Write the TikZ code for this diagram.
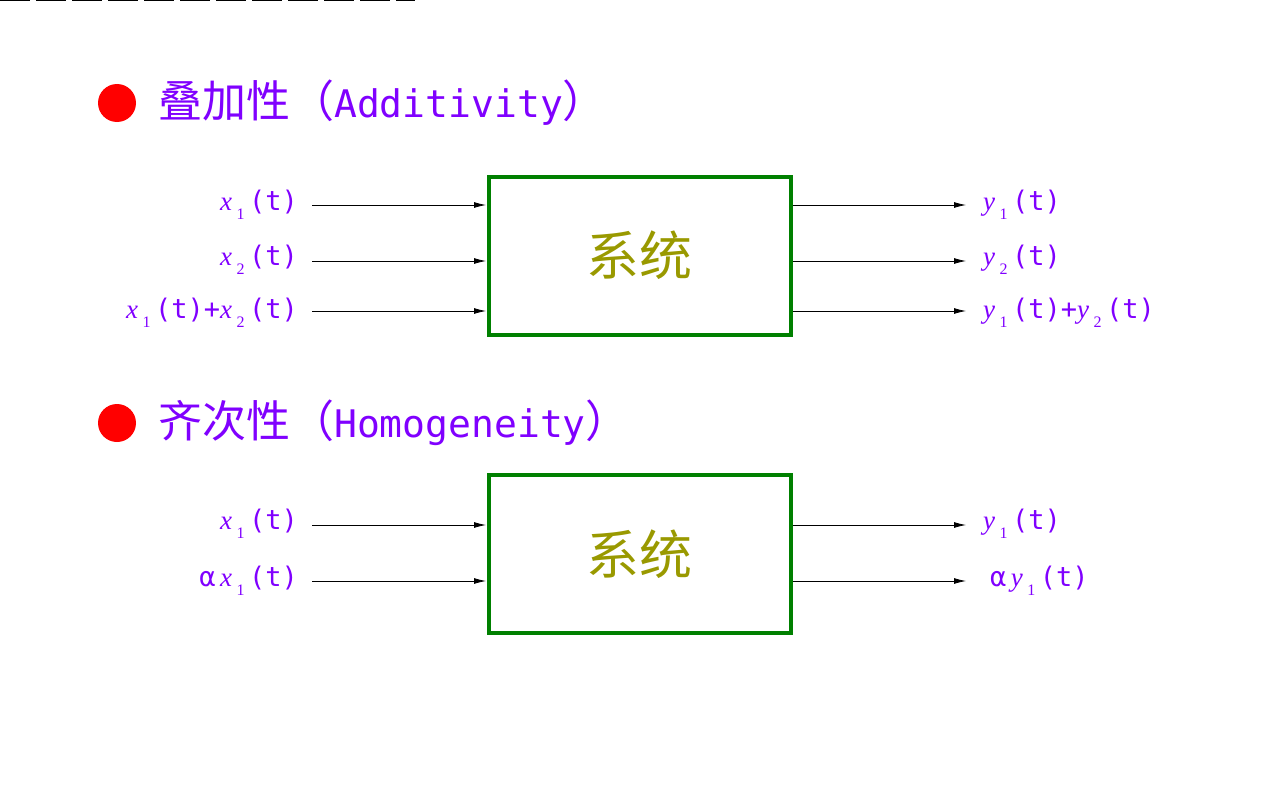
\documentclass[tikz,border=0pt]{standalone}
\usepackage{fontspec}
\setmainfont{Liberation Serif}
\newfontfamily\cjk{Noto Sans CJK SC}
\newfontfamily\mono{DejaVu Sans Mono}
\usetikzlibrary{arrows.meta}
\definecolor{pur}{HTML}{8000FF}
\definecolor{oli}{HTML}{999900}
\definecolor{grn}{HTML}{008000}
\newcommand{\xs}[2]{{\itshape #1}\,\raisebox{-0.35em}{\fontsize{16}{16}\selectfont #2}\,{\mono(t)}}
\begin{document}
\begin{tikzpicture}[x=1pt,y=-1pt,
  sys/.style={draw=grn,line width=4pt,minimum width=302pt,minimum height=158pt,text=oli,font=\cjk\fontsize{53}{53}\selectfont},
  lab/.style={text=pur,font=\fontsize{27}{27}\selectfont,inner sep=0pt},
  arr/.style={-{Latex[length=12pt,width=6pt]},line width=0.8pt},
  title/.style={text=pur,font=\cjk\fontsize{44}{44}\selectfont,anchor=west,inner sep=0pt},
  dot/.style={circle,fill=red,minimum size=38pt,inner sep=0pt}]
\useasboundingbox (0,0) rectangle (1280,800);
\draw[line width=1.5pt,dash pattern=on 30pt off 6pt] (0,0.5) -- (415,0.5);
% part 1
\node[dot] (d1) at (117,103) {};
\node[title] (t1) at (158,103) {叠加性（{\mono\fontsize{38}{38}\selectfont Additivity}）};
\node[sys] (s1) at (639.5,255.5) {系统};
\coordinate (i1) at (312,205); \coordinate (i2) at (312,261); \coordinate (i3) at (312,311);
\coordinate (e1) at (486,205); \coordinate (e2) at (486,261); \coordinate (e3) at (486,311);
\coordinate (o1) at (793,205); \coordinate (o2) at (793,261); \coordinate (o3) at (793,311);
\coordinate (f1) at (966,205); \coordinate (f2) at (966,261); \coordinate (f3) at (966,311);
\foreach \k in {1,2,3}{\draw[arr] (i\k) -- (e\k); \draw[arr] (o\k) -- (f\k);}
\node[lab,anchor=east] (l1) at (298,205) {\xs{x}{1}};
\node[lab,anchor=east] (l2) at (298,260) {\xs{x}{2}};
\node[lab,anchor=east] (l3) at (298,313) {\xs{x}{1}{\mono+}\xs{x}{2}};
\node[lab,anchor=west] (r1) at (983,205) {\xs{y}{1}};
\node[lab,anchor=west] (r2) at (983,260) {\xs{y}{2}};
\node[lab,anchor=west] (r3) at (983,313) {\xs{y}{1}{\mono+}\xs{y}{2}};
% part 2
\node[dot] (d2) at (117,423) {};
\node[title] (t2) at (158,423) {齐次性（{\mono\fontsize{38}{38}\selectfont Homogeneity}）};
\node[sys] (s2) at (639.5,554) {系统};
\coordinate (i4) at (312,525); \coordinate (i5) at (312,581);
\coordinate (e4) at (486,525); \coordinate (e5) at (486,581);
\coordinate (o4) at (793,525); \coordinate (o5) at (793,581);
\coordinate (f4) at (966,525); \coordinate (f5) at (966,581);
\foreach \k in {4,5}{\draw[arr] (i\k) -- (e\k); \draw[arr] (o\k) -- (f\k);}
\node[lab,anchor=east] (l4) at (298,524) {\xs{x}{1}};
\node[lab,anchor=east] (l5) at (298,581) {{\mono α}\,\xs{x}{1}};
\node[lab,anchor=east] (l5) at (298,581) {};
\node[lab,anchor=west] (r4) at (983,524) {\xs{y}{1}};
\node[lab,anchor=west] (r5) at (990,581) {{\mono α}\,\xs{y}{1}};
\end{tikzpicture}
\end{document}
